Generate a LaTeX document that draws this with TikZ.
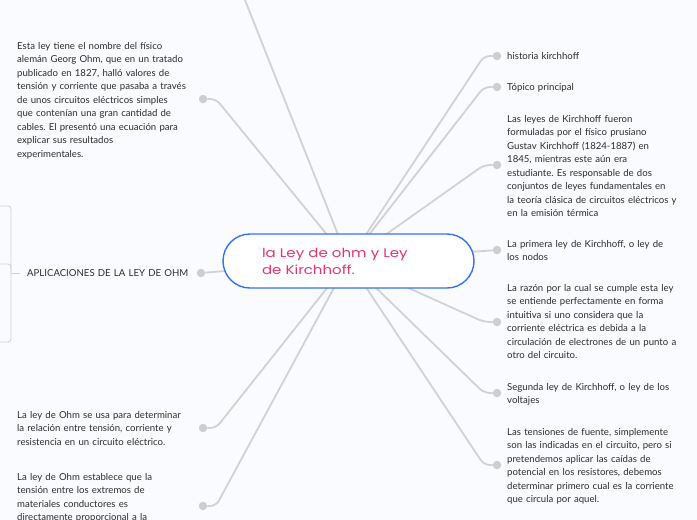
\documentclass[tikz,border=0pt]{standalone}
\usepackage{fontspec}
\setmainfont{Lato}
\newfontfamily\titlefont{Poppins}[FakeStretch=1.2]
\frenchspacing
\definecolor{bgcol}{RGB}{250,251,254}
\definecolor{linecol}{RGB}{210,210,210}
\definecolor{knobcol}{RGB}{206,206,206}
\definecolor{txtcol}{RGB}{45,45,45}
\definecolor{mainblue}{RGB}{52,113,246}
\definecolor{mainpink}{RGB}{232,52,110}
\pgfdeclarelayer{bg}
\pgfdeclarelayer{edges}
\pgfsetlayers{bg,edges,main}
\begin{document}
\begin{tikzpicture}[x=1pt,y=-1pt,
    topic/.style={anchor=base west,inner sep=0pt,text width=190pt,align=left,text=txtcol,
      font=\fontsize{9.6}{13.5}\selectfont},
    knob/.style={circle,fill=knobcol,inner sep=0pt,minimum size=8.5pt},
    link/.style={draw=linecol,line width=1.8pt,rounded corners=6pt},
    grp/.style={draw=linecol,line width=0.9pt,rounded corners=3pt}]
  \useasboundingbox (0,0) rectangle (697,520);
  \begin{pgfonlayer}{bg}
    \fill[bgcol] (0,0) rectangle (697,520);
  \end{pgfonlayer}
  \node[draw=mainblue,line width=1.4pt,fill=white,rounded corners=27pt,minimum height=54pt,
    inner xsep=39pt,text width=173pt,align=left,text=mainpink,
    font=\titlefont\fontsize{12.5}{17}\selectfont] (main) at (348.5,261)
    {la Ley de ohm y Ley\\de Kirchhoff.};
  \coordinate (up) at (243,-5);
  \node[knob] (l1) at (203,99) {};
  \node[knob] (l2) at (201,273) {};
  \node[knob] (l3) at (203,428) {};
  \node[knob] (l4) at (203,506) {};
  \node[knob] (r1) at (497,56) {};
  \node[knob] (r2) at (497,87) {};
  \node[knob] (r3) at (497,165) {};
  \node[knob] (r4) at (497,250) {};
  \node[knob] (r5) at (497,322) {};
  \node[knob] (r6) at (497,393) {};
  \node[knob] (r7) at (497,465) {};
  \node[topic] (t1) at (17,49) {Esta ley tiene el nombre del físico\\alemán Georg Ohm, que en un tratado\\publicado en 1827, halló valores de\\tensión y corriente que pasaba a través\\de unos circuitos eléctricos simples\\que contenían una gran cantidad de\\cables. El presentó una ecuación para\\explicar sus resultados\\experimentales.};
  \node[topic] (t2) at (27,276.5) {APLICACIONES DE LA LEY DE OHM};
  \node[topic] (t3) at (17,418) {La ley de Ohm se usa para determinar\\la relación entre tensión, corriente y\\resistencia en un circuito eléctrico.};
  \node[topic] (t4) at (17,480) {La ley de Ohm establece que la\\tensión entre los extremos de\\materiales conductores es\\directamente proporcional a la};
  \node[topic] (t5) at (507,59) {historia kirchhoff};
  \node[topic] (t6) at (507,90) {Tópico principal};
  \node[topic] (t7) at (507,122) {Las leyes de Kirchhoff fueron\\formuladas por el físico prusiano\\Gustav Kirchhoff (1824-1887) en\\1845, mientras este aún era\\estudiante. Es responsable de dos\\conjuntos de leyes fundamentales en\\la teoría clásica de circuitos eléctricos y\\en la emisión térmica};
  \node[topic] (t8) at (507,247) {La primera ley de Kirchhoff, o ley de\\los nodos};
  \node[topic] (t9) at (507,291) {La razón por la cual se cumple esta ley\\se entiende perfectamente en forma\\intuitiva si uno considera que la\\corriente eléctrica es debida a la\\circulación de electrones de un punto a\\otro del circuito.};
  \node[topic] (t10) at (507,390) {Segunda ley de Kirchhoff, o ley de los\\voltajes};
  \node[topic] (t11) at (507,435) {Las tensiones de fuente, simplemente\\son las indicadas en el circuito, pero si\\pretendemos aplicar las caídas de\\potencial en los resistores, debemos\\determinar primero cual es la corriente\\que circula por aquel.};
  \begin{pgfonlayer}{edges}
    \draw[link] (main.center) -- (up);
    \draw[link] (main.center) -- ([xshift=13pt]l1.center) -- (l1);
    \draw[link] (main.center) -- (l2);
    \draw[link] (main.center) -- ([xshift=13pt]l3.center) -- (l3);
    \draw[link] (main.center) -- ([xshift=13pt]l4.center) -- (l4);
    \draw[link] (main.center) -- ([xshift=-13pt]r1.center) -- (r1);
    \draw[link] (main.center) -- ([xshift=-13pt]r2.center) -- (r2);
    \draw[link] (main.center) -- ([xshift=-13pt]r3.center) -- (r3);
    \draw[link] (main.center) -- (r4);
    \draw[link] (main.center) -- ([xshift=-13pt]r5.center) -- (r5);
    \draw[link] (main.center) -- ([xshift=-13pt]r6.center) -- (r6);
    \draw[link] (main.center) -- ([xshift=-13pt]r7.center) -- (r7);
  \end{pgfonlayer}
  \draw[grp] (0,206) -- (11,206) -- (11,342) -- (0,342);
  \draw[grp] (0,264) -- (11,264) -- (11,272);
  \draw[grp] (11,273) -- (20,273);
\end{tikzpicture}
\end{document}
